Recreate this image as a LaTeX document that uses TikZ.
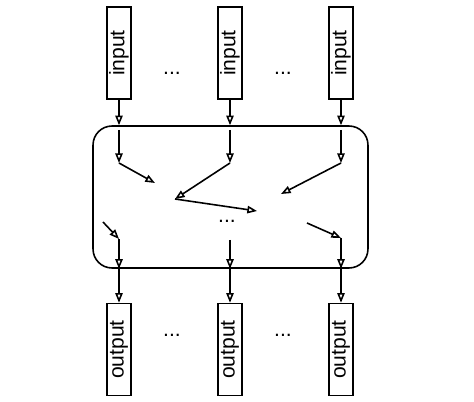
\documentclass[tikz,border=0pt]{standalone}
\usepackage{fontspec}
\setmainfont{Liberation Sans}
\usetikzlibrary{arrows.meta}
\tikzset{
  iobox/.style={draw, line width=0.9pt, rotate=90, minimum width=1.84cm,
    minimum height=0.48cm, inner sep=0pt, font=\fontsize{12}{14}\selectfont},
  dots/.style={font=\fontsize{12}{14}\selectfont},
  arr/.style={-{Triangle[open,length=5.5pt,width=4.2pt]}, line width=0.9pt}
}
\begin{document}
\begin{tikzpicture}[x=0.02cm, y=-0.02cm]
      \useasboundingbox (0,0) rectangle (474,402);
      \draw
        (119,53) node[iobox] (in1){input}
        (230,53) node[iobox] (in2){input}
        (341,53) node[iobox] (in3){input}
        (119,349.5) node[iobox] (out1){output}
        (230,349.5) node[iobox] (out2){output}
        (341,349.5) node[iobox] (out3){output};
      \draw
        (172,73) node[dots] (d1){...}
        (283,73) node[dots] (d2){...}
        (227,221) node[dots] (d3){...}
        (172,335) node[dots] (d4){...}
        (283,335) node[dots] (d5){...};
      \node[draw, line width=0.9pt, rounded corners=0.38cm, minimum width=5.5cm,
        minimum height=2.84cm] (box) at (230.5,197) {};
      % points inside the box
      \coordinate (l1) at (119,130);
      \coordinate (l2) at (119,163);
      \coordinate (l3) at (155,183);
      \coordinate (m1) at (230,130);
      \coordinate (m2) at (230,163);
      \coordinate (m3) at (175,199);
      \coordinate (m4) at (257,211);
      \coordinate (r1) at (341,130);
      \coordinate (r2) at (341,163);
      \coordinate (r3) at (281,194);
      \coordinate (bl1) at (103,222);
      \coordinate (bl2) at (119,239);
      \coordinate (bm) at (230,240);
      \coordinate (br1) at (307,223);
      \coordinate (br2) at (341,238);
      \begin{scope}[arr]
        \draw (in1) to (in1 |- box.north);
        \draw (in2) to (in2 |- box.north);
        \draw (in3) to (in3 |- box.north);
        \draw (l1) to (l2);
        \draw (l2) to (l3);
        \draw (m1) to (m2);
        \draw (m2) to (m3);
        \draw (m3) to (m4);
        \draw (r1) to (r2);
        \draw (r2) to (r3);
        \draw (bl1) to (bl2);
        \draw (br1) to (br2);
        \draw (bl2) to (bl2 |- box.south);
        \draw (bm) to (bm |- box.south);
        \draw (br2) to (br2 |- box.south);
        \draw (out1 |- box.south) to (out1);
        \draw (out2 |- box.south) to (out2);
        \draw (out3 |- box.south) to (out3);
      \end{scope}
    \end{tikzpicture}
\end{document}
